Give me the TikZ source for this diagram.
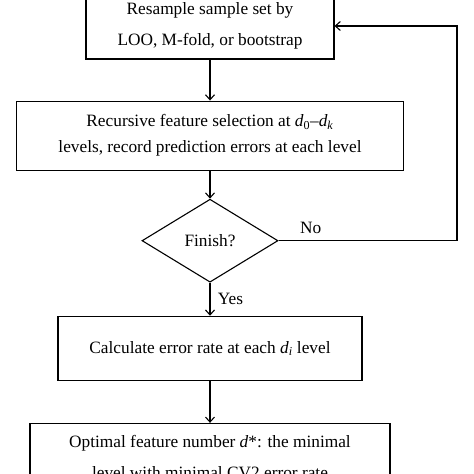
\documentclass[tikz,border=0pt]{standalone}
\usepackage{fontspec}
\setmainfont{Liberation Serif}
\usetikzlibrary{positioning,arrows.meta,shapes.geometric}
\tikzset{
stepbox/.style = {draw, rectangle, line width=1.1pt, align=center, minimum width=#1, minimum height=66pt, inner sep=0pt},
stepbox/.default = 300pt, % width of the box
decision/.style = {draw, diamond, line width=1.1pt, minimum width=136pt, minimum height=83pt, inner sep=0pt},
flow/.style = {line width=1.1pt, -{Straight Barb[length=5pt,width=9pt]}}
}

\begin{document}
\begin{tikzpicture}[x=1pt, y=-1pt, font=\fontsize{17.3}{26}\selectfont]
      \clip (0,0) rectangle (474,474);
      \useasboundingbox (0,0) rectangle (474,474);
      \node [stepbox=248pt] (resample) at (210,26) {Resample sample set by\\[5pt]LOO, M-fold, or bootstrap};
      \node [stepbox=387pt, minimum height=69pt, below=41pt of resample] (select)
        {Recursive feature selection at \textit{d}\textsubscript{0}--\textit{d}\textsubscript{\textit{k}}\\levels, record prediction errors at each level};
      \node [decision, below=28pt of select] (finish) {Finish?};
      \node [stepbox=304pt, minimum height=64pt, below=33pt of finish] (rate)
        {Calculate error rate at each \textit{d}\textsubscript{\textit{i}} level};
      \node [stepbox=360pt, minimum height=68pt, below=42pt of rate] (optimal)
        {Optimal feature number \textit{d}*: the minimal\\[5pt]level with minimal CV2 error rate};
      \coordinate (loop) at (457,26);
      % connectors
      \draw [flow] (resample) -- (select);
      \draw [flow] (select) -- (finish);
      \draw [flow] (finish) -- node [right=4pt] {Yes} (rate);
      \draw [flow] (rate) -- (optimal);
      \draw [flow] (finish.east) -| node [pos=0.09, above=3pt] {No} (loop) -- (resample.east);
    \end{tikzpicture}
\end{document}
